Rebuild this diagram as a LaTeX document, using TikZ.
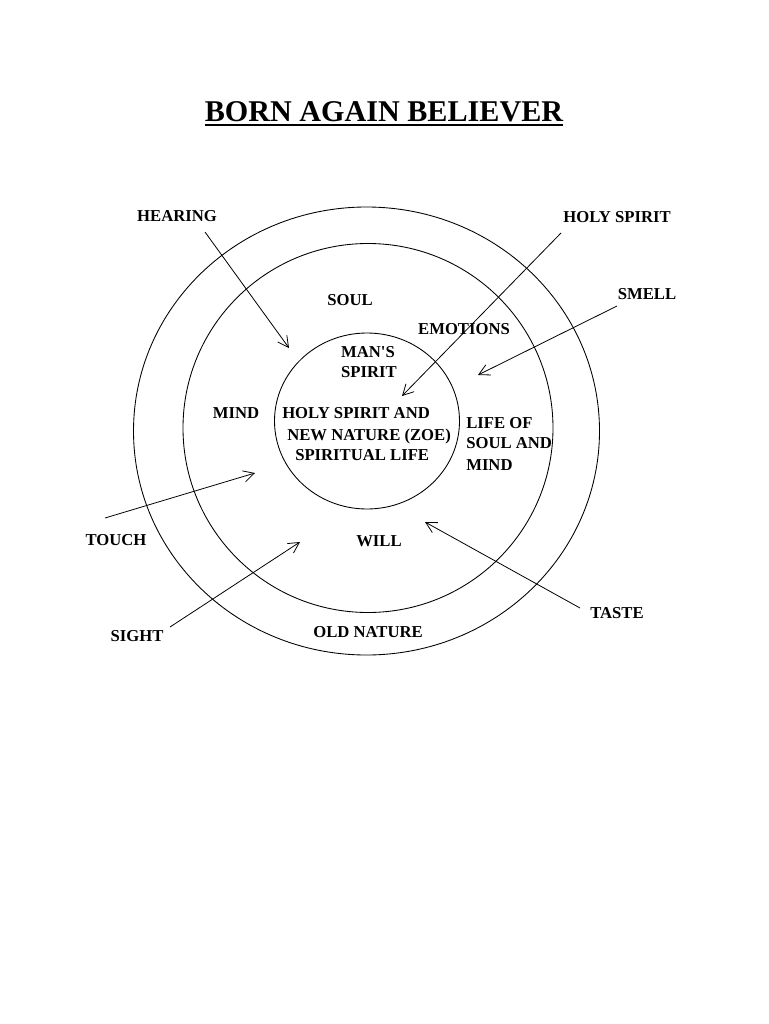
\documentclass[tikz,border=0pt]{standalone}
\usepackage{fontspec}
\setmainfont{Liberation Serif}
\usetikzlibrary{arrows.meta}
\begin{document}
\begin{tikzpicture}[x=0.75pt,y=-0.75pt,
  lbl/.style={font=\fontsize{12.5}{14}\selectfont\bfseries, inner sep=0pt, anchor=base},
  lblw/.style={lbl, anchor=base west},
  ring/.style={draw=black, line width=0.65pt},
  sense/.style={draw=black, line width=0.6pt, -{Straight Barb[length=8pt,width=8.5pt,line width=0.6pt]}}]
\useasboundingbox (0,0) rectangle (768,1024);
\fill[white] (0,0) rectangle (768,1024);
% title
\node[font=\fontsize{22.6}{26}\selectfont\bfseries, inner sep=0pt, anchor=base] (title) at (384,122) {BORN AGAIN BELIEVER};
\draw[line width=1.4pt] ([yshift=-2.2pt]title.base west) -- ([yshift=-2.2pt]title.base east);
% rings
\draw[ring] (366.5,431) ellipse [x radius=233, y radius=224];
\draw[ring] (368,428) ellipse [x radius=185, y radius=184.5];
\draw[ring] (367,421) ellipse [x radius=92.5, y radius=88];
% labels
\node[lbl] (hearing) at (177,221.7) {HEARING};
\node[lbl] (holyspirit) at (617,222) {HOLY SPIRIT};
\node[lbl] (smell) at (647,299) {SMELL};
\node[lbl] (soul) at (350,305) {SOUL};
\node[lbl] (emotions) at (464,334) {EMOTIONS};
\node[lbl] (mans) at (368,357) {MAN\textquotesingle S};
\node[lbl] (spirit) at (369,377) {SPIRIT};
\node[lbl] (mind) at (236,418) {MIND};
\node[lblw] (hs1) at (282,418) {HOLY SPIRIT AND};
\node[lblw] (hs2) at (287,440) {NEW NATURE (ZOE)};
\node[lblw] (hs3) at (295,460) {SPIRITUAL LIFE};
\node[lblw] (life1) at (466,428) {LIFE OF};
\node[lblw] (life2) at (466,448) {SOUL AND};
\node[lblw] (life3) at (466,470) {MIND};
\node[lbl] (touch) at (116,545) {TOUCH};
\node[lbl] (will) at (379,546) {WILL};
\node[lbl] (sight) at (137,641) {SIGHT};
\node[lbl] (oldnature) at (368,637) {OLD NATURE};
\node[lbl] (taste) at (617,618) {TASTE};
% arrow ends
\coordinate (hearS) at (205,232);  \coordinate (hearT) at (289,348);
\coordinate (hsS) at (561,233);    \coordinate (hsT) at (402,396);
\coordinate (smellS) at (617,306); \coordinate (smellT) at (478,375);
\coordinate (touchS) at (105,518); \coordinate (touchT) at (255,473);
\coordinate (sightS) at (170,627); \coordinate (sightT) at (300,542);
\coordinate (tasteS) at (580,608); \coordinate (tasteT) at (425,522);
\draw[sense] (hearS) -- (hearT);
\draw[sense] (hsS) -- (hsT);
\draw[sense] (smellS) -- (smellT);
\draw[sense] (touchS) -- (touchT);
\draw[sense] (sightS) -- (sightT);
\draw[sense] (tasteS) -- (tasteT);
\end{tikzpicture}
\end{document}
